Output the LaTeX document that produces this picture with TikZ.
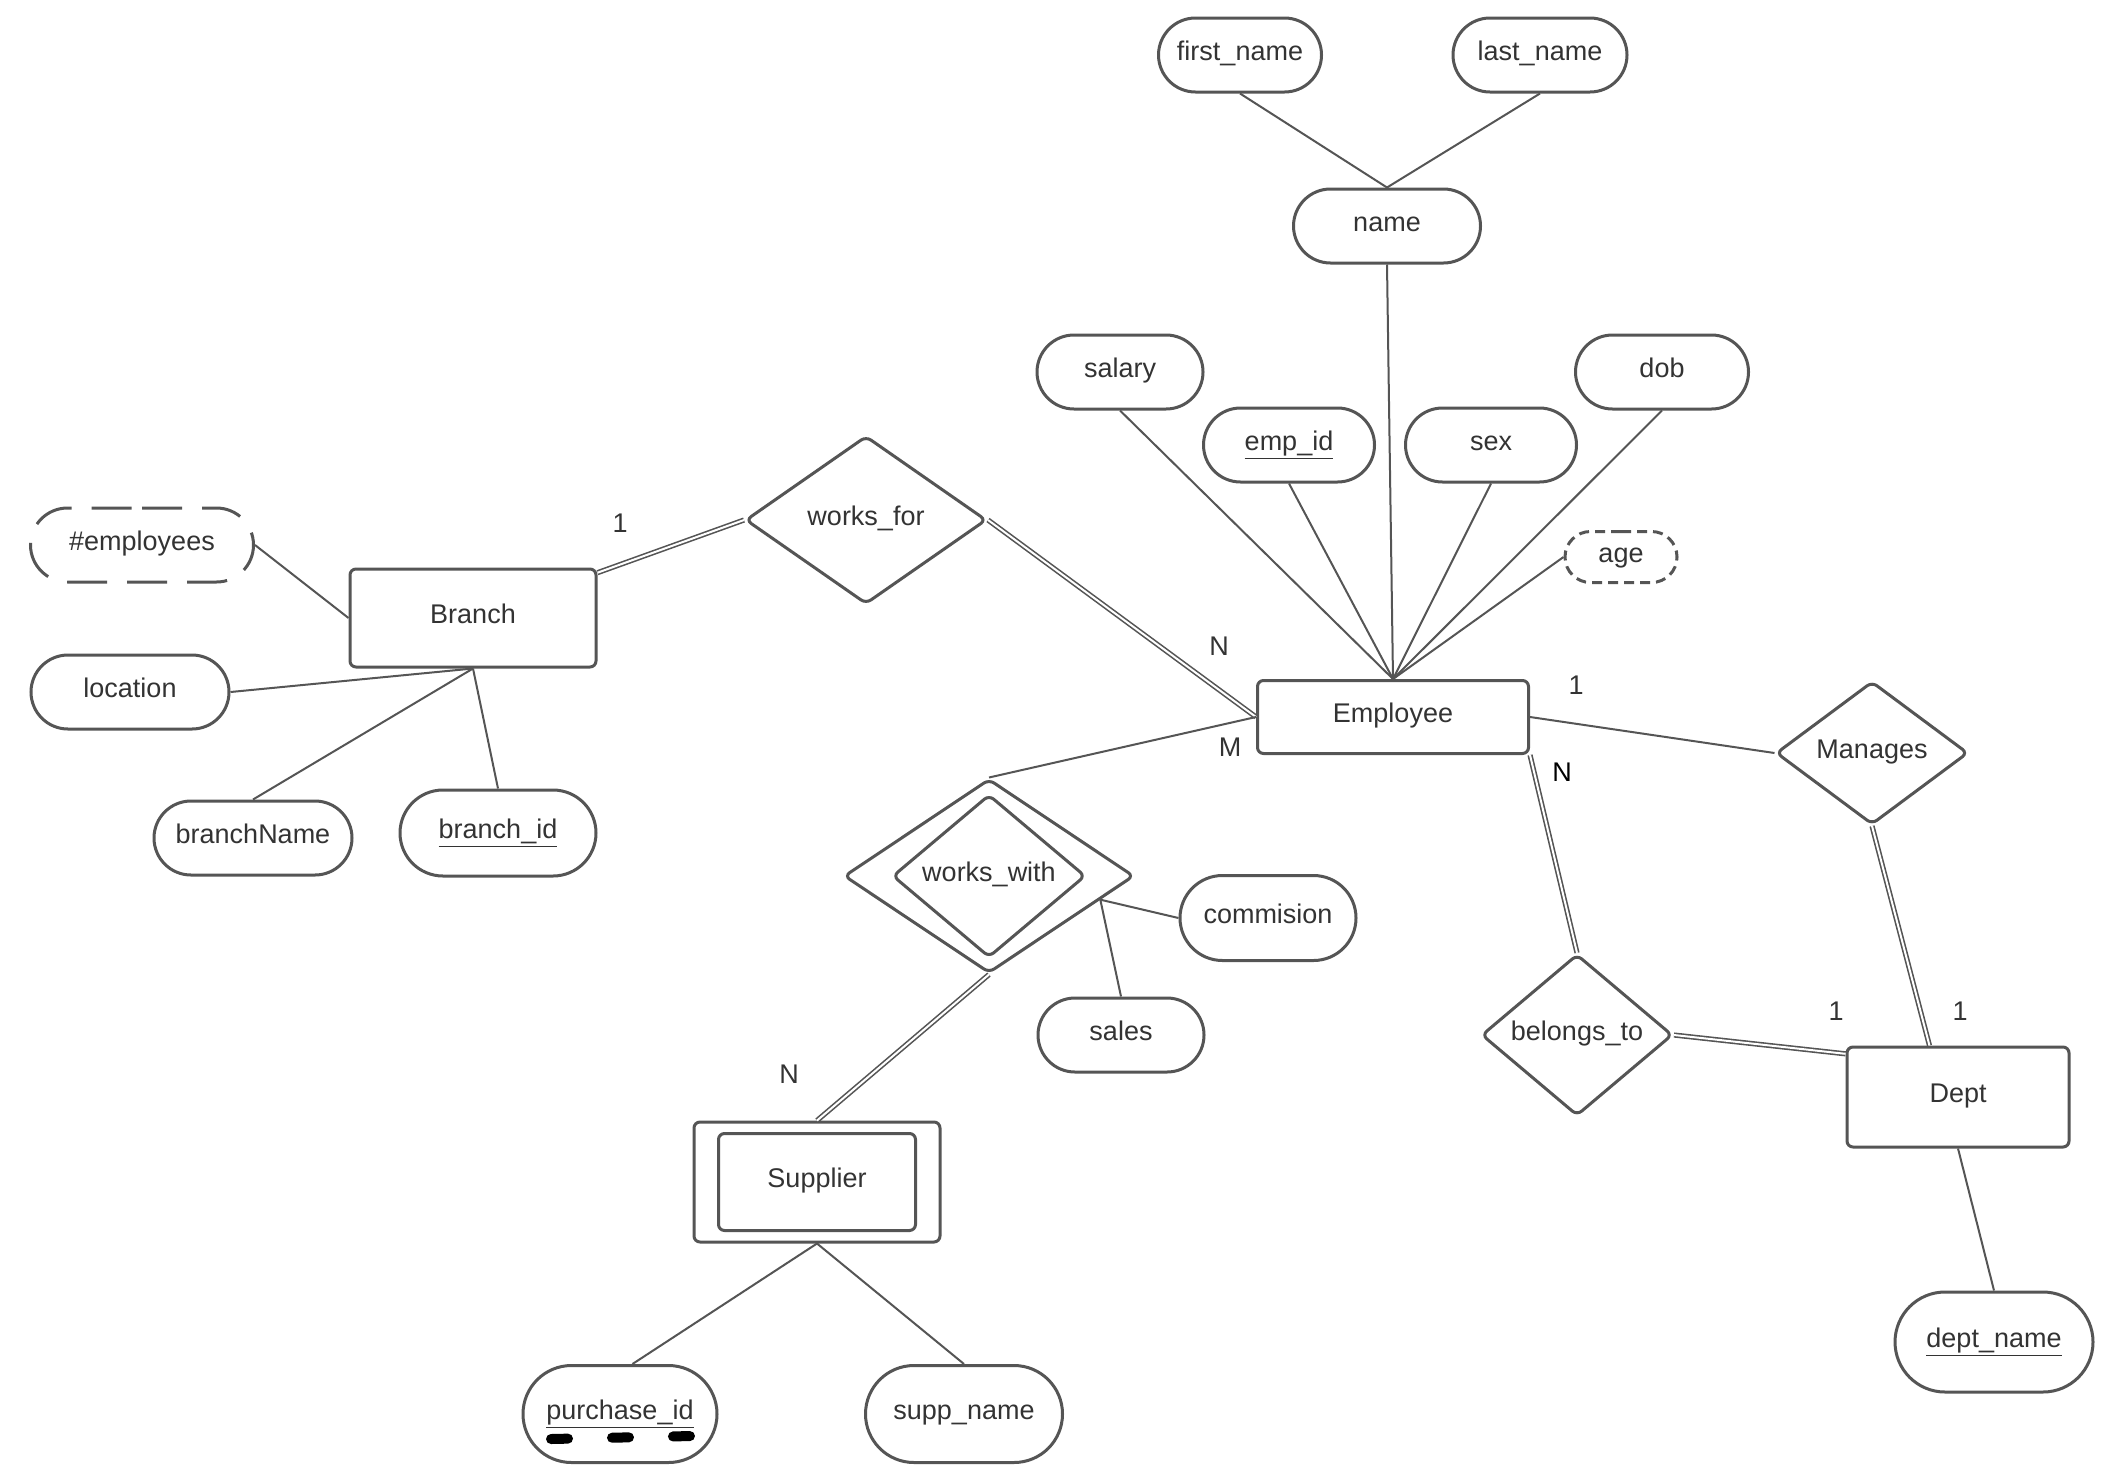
\documentclass[tikz,border=0pt]{standalone}
\usepackage{fontspec}
\setmainfont{Liberation Sans}
\usetikzlibrary{shapes.geometric,shapes.misc,calc}
\definecolor{edgegray}{HTML}{555555}
\definecolor{textgray}{HTML}{333333}

\begin{document}
\begin{tikzpicture}[x=0.5pt,y=-0.5pt,
    every node/.style={font=\fontsize{13.5}{16}\selectfont,text=textgray,text height=9.8pt,text depth=4.8pt,inner sep=0pt},
    entity/.style={draw=edgegray,line width=1.5pt,rounded corners=3pt,fill=white},
    attr/.style={draw=edgegray,line width=1.5pt,rounded rectangle,fill=white,minimum height=37pt},
    rel/.style={draw=edgegray,line width=1.5pt,diamond,rounded corners=3pt,fill=white},
    link/.style={draw=edgegray,line width=1pt},
    dlink/.style={draw=edgegray,line width=0.8pt,double,double distance=1pt},
    card/.style={text=textgray}]
  \useasboundingbox (0,0) rectangle (2114,1478);

  % employee and its attributes
  \node[attr,minimum width=81.5pt] (firstname) at (1240,55) {first\_name};
  \node[attr,minimum width=87pt] (lastname) at (1540,55) {last\_name};
  \node[attr,minimum width=93.5pt] (name) at (1387,226) {name};
  \node[attr,minimum width=83pt] (salary) at (1120,372) {salary};
  \node[attr,minimum width=85.5pt] (empid) at (1289,445) {\underline{emp\_id}};
  \node[attr,minimum width=85.5pt] (sex) at (1491,445) {sex};
  \node[attr,minimum width=86.5pt] (dob) at (1662,372) {dob};
  \node[attr,dash pattern=on 5pt off 3pt,minimum width=56pt,minimum height=25.5pt] (age) at (1621,557) {age};
  \node[entity,minimum width=135.5pt,minimum height=36.5pt] (emp) at (1393,717) {Employee};

  % branch
  \node[entity,minimum width=123pt,minimum height=49pt] (branch) at (473,618) {Branch};
  \node[attr,dash pattern=on 20pt off 10pt,minimum width=111.5pt] (nemp) at (142,545) {\#employees};
  \node[attr,minimum width=99pt] (loc) at (130,692) {location};
  \node[attr,minimum width=99pt] (bname) at (253,838) {branchName};
  \node[attr,minimum width=98pt,minimum height=43pt] (bid) at (498,833) {\underline{branch\_id}};
  \node[rel,minimum width=120.5pt,minimum height=84pt] (wfor) at (866,520) {works\_for};

  % supplier
  \node[rel,minimum width=145pt,minimum height=97pt] (wwith) at (989,876) {};
  \node[rel,minimum width=96.5pt,minimum height=72.5pt] (wwithin) at (989,876) {works\_with};
  \node[attr,minimum width=88pt,minimum height=42.5pt] (comm) at (1268,918) {commision};
  \node[attr,minimum width=83pt] (sales) at (1121,1035) {sales};
  \node[entity,minimum width=123pt,minimum height=60pt] (sup) at (817,1182) {};
  \node[entity,minimum width=98.5pt,minimum height=48.5pt] (supin) at (817,1182) {Supplier};
  \node[attr,minimum width=97pt,minimum height=48.5pt] (pid) at (620,1414) {\underline{purchase\_id}};
  \node[attr,minimum width=98.5pt,minimum height=48.5pt] (sname) at (964,1414) {supp\_name};

  % dept
  \node[rel,minimum width=96pt,minimum height=71.5pt] (manages) at (1872,753) {Manages};
  \node[rel,minimum width=95.5pt,minimum height=72pt] (belongs) at (1577,1035) {belongs\_to};
  \node[entity,minimum width=111pt,minimum height=50pt] (dept) at (1958,1097) {Dept};
  \node[attr,minimum width=99pt,minimum height=50pt] (dname) at (1994,1342) {\underline{dept\_name}};

  % cardinalities
  \node[card] (c1) at (620,527) {1};
  \node[card] (c2) at (1219,650) {N};
  \node[card] (c3) at (1230,751) {M};
  \node[card] (c4) at (1576,689) {1};
  \node[card,text=black] (c5) at (1562,776) {N};
  \node[card] (c6) at (789,1078) {N};
  \node[card] (c7) at (1836,1015) {1};
  \node[card] (c8) at (1960,1015) {1};

  \draw[link] (firstname.south) -- (name.north);
  \draw[link] (lastname.south) -- (name.north);
  \draw[link] (name.south) -- (emp.north);
  \foreach \a in {salary,empid,sex,dob}
    \draw[link] (\a.south) -- (emp.north);
  \draw[link] (age.west) -- (emp.north);

  \draw[dlink] (branch.20) -- (wfor.west);
  \draw[dlink] (wfor.east) -- (emp.west);
  \draw[link] (nemp.east) -- (branch.west);
  \foreach \a in {loc.east,bname.north,bid.north}
    \draw[link] (\a) -- (branch.south);

  \draw[link] (emp.west) -- (wwith.north);
  \draw[link] (wwith.-12) -- (comm.west);
  \draw[link] (wwith.-12) -- (sales.north);
  \draw[dlink] (wwith.south) -- (sup.north);
  \draw[link] (sup.south) -- (pid.76);
  \draw[link] (sup.south) -- (sname.north);

  \draw[link] (emp.east) -- (manages.west);
  \draw[dlink] (emp.south east) -- (belongs.north);
  \draw[dlink] (manages.south) -- (dept.119);
  \draw[dlink] (belongs.east) -- (dept.159);
  \draw[link] (dept.south) -- (dname.north);

  % partial key marks
  \draw[line width=5pt,line cap=round,dash pattern=on 8.5pt off 22pt] ($(pid.center)+(-69,25)$) -- ($(pid.center)+(72,22)$);
\end{tikzpicture}
\end{document}
